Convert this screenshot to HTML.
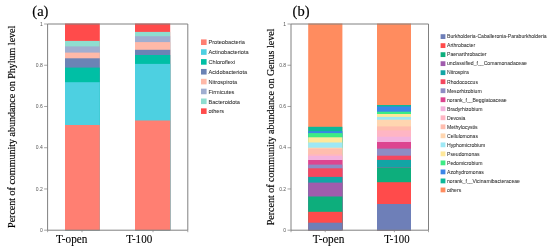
<!DOCTYPE html>
<html><head><meta charset="utf-8"><title>Community abundance</title>
<style>
html,body{margin:0;padding:0;background:#fff}
svg{display:block}
.tk{font-family:"Liberation Sans",Arial,sans-serif;font-size:5px;fill:#555}
.lg{font-family:"Liberation Sans",Arial,sans-serif;fill:#333;stroke:#333;stroke-width:0.06px}
.sx{font-family:"Liberation Serif","Times New Roman",serif;fill:#000;stroke:#000;stroke-width:0.1px}
.sf{font-family:"Liberation Serif","Times New Roman",serif;fill:#000;stroke:#000;stroke-width:0.16px}
</style></head><body>
<svg width="550" height="252" viewBox="0 0 550 252">
<rect width="550" height="252" fill="#fff"/>
<!-- panel a -->
<text x="32.3" y="15.9" class="sf" font-size="14.5">(a)</text>
<rect x="65" y="23.5" width="34.8" height="206.7" fill="#FF4B4B"/>
<rect x="65" y="40.9" width="34.8" height="189.3" fill="#8FDDD0"/>
<rect x="65" y="46.4" width="34.8" height="183.8" fill="#A0AED0"/>
<rect x="65" y="52.6" width="34.8" height="177.6" fill="#FFB9A8"/>
<rect x="65" y="58.3" width="34.8" height="171.9" fill="#6B83B5"/>
<rect x="65" y="67.6" width="34.8" height="162.6" fill="#00BFA5"/>
<rect x="65" y="82.2" width="34.8" height="148.0" fill="#4DD0E1"/>
<rect x="65" y="125" width="34.8" height="105.2" fill="#FF7F72"/>
<rect x="135" y="23.5" width="35.2" height="206.7" fill="#FF4B4B"/>
<rect x="135" y="31.9" width="35.2" height="198.3" fill="#8FDDD0"/>
<rect x="135" y="36.2" width="35.2" height="194.0" fill="#A0AED0"/>
<rect x="135" y="42.1" width="35.2" height="188.1" fill="#FFB9A8"/>
<rect x="135" y="49.8" width="35.2" height="180.4" fill="#6B83B5"/>
<rect x="135" y="55" width="35.2" height="175.2" fill="#00BFA5"/>
<rect x="135" y="63.9" width="35.2" height="166.3" fill="#4DD0E1"/>
<rect x="135" y="120.5" width="35.2" height="109.7" fill="#FF7F72"/>
<path d="M47.6 24.0H187.8V230.2H47.6Z" fill="none" stroke="#808080" stroke-width="1"/>
<path d="M44.1 230.20H47.6" stroke="#808080" stroke-width="0.7"/>
<text x="42.7" y="231.90" text-anchor="end" class="tk">0</text>
<path d="M44.1 188.96H47.6" stroke="#808080" stroke-width="0.7"/>
<text x="42.7" y="190.66" text-anchor="end" class="tk">0.2</text>
<path d="M44.1 147.72H47.6" stroke="#808080" stroke-width="0.7"/>
<text x="42.7" y="149.42" text-anchor="end" class="tk">0.4</text>
<path d="M44.1 106.48H47.6" stroke="#808080" stroke-width="0.7"/>
<text x="42.7" y="108.18" text-anchor="end" class="tk">0.6</text>
<path d="M44.1 65.24H47.6" stroke="#808080" stroke-width="0.7"/>
<text x="42.7" y="66.94" text-anchor="end" class="tk">0.8</text>
<path d="M44.1 24.00H47.6" stroke="#808080" stroke-width="0.7"/>
<text x="42.7" y="25.70" text-anchor="end" class="tk">1</text>
<path d="M47.6 230.2V232.2" stroke="#808080" stroke-width="0.7"/>
<path d="M82 230.2V232.2" stroke="#808080" stroke-width="0.7"/>
<path d="M153 230.2V232.2" stroke="#808080" stroke-width="0.7"/>
<path d="M187.8 230.2V232.2" stroke="#808080" stroke-width="0.7"/>
<text transform="translate(14.9 227.9) rotate(-90)" class="sf" font-size="10" textLength="202.2" lengthAdjust="spacingAndGlyphs">Percent of community abundance on Phylum level</text>
<text x="56" y="243.2" class="sx" font-size="12" textLength="31.4" lengthAdjust="spacingAndGlyphs">T-open</text>
<text x="126.2" y="243.2" class="sx" font-size="12" textLength="26" lengthAdjust="spacingAndGlyphs">T-100</text>
<rect x="201" y="39.40" width="5.6" height="5.6" fill="#FF7F72"/>
<text x="208.5" y="44.40" class="lg" font-size="5.6">Proteobacteria</text>
<rect x="201" y="49.25" width="5.6" height="5.6" fill="#4DD0E1"/>
<text x="208.5" y="54.25" class="lg" font-size="5.6">Actinobacteriota</text>
<rect x="201" y="59.10" width="5.6" height="5.6" fill="#00BFA5"/>
<text x="208.5" y="64.10" class="lg" font-size="5.6">Chloroflexi</text>
<rect x="201" y="68.95" width="5.6" height="5.6" fill="#6B83B5"/>
<text x="208.5" y="73.95" class="lg" font-size="5.6">Acidobacteriota</text>
<rect x="201" y="78.80" width="5.6" height="5.6" fill="#FFB9A8"/>
<text x="208.5" y="83.80" class="lg" font-size="5.6">Nitrospirota</text>
<rect x="201" y="88.65" width="5.6" height="5.6" fill="#A0AED0"/>
<text x="208.5" y="93.65" class="lg" font-size="5.6">Firmicutes</text>
<rect x="201" y="98.50" width="5.6" height="5.6" fill="#8FDDD0"/>
<text x="208.5" y="103.50" class="lg" font-size="5.6">Bacteroidota</text>
<rect x="201" y="108.35" width="5.6" height="5.6" fill="#FF4B4B"/>
<text x="208.5" y="113.35" class="lg" font-size="5.6">others</text>
<!-- panel b -->
<text x="292.6" y="15.9" class="sf" font-size="14.5">(b)</text>
<rect x="308.2" y="23.5" width="34.2" height="206.7" fill="#FF8C5F"/>
<rect x="308.2" y="126.8" width="34.2" height="103.4" fill="#0CB89A"/>
<rect x="308.2" y="131.2" width="34.2" height="99.0" fill="#3B86E8"/>
<rect x="308.2" y="133.1" width="34.2" height="97.1" fill="#3DEB85"/>
<rect x="308.2" y="137.3" width="34.2" height="92.9" fill="#FFE89A"/>
<rect x="308.2" y="142.5" width="34.2" height="87.7" fill="#9EE8F5"/>
<rect x="308.2" y="147.7" width="34.2" height="82.5" fill="#FFD6B0"/>
<rect x="308.2" y="148.6" width="34.2" height="81.6" fill="#FFBDAE"/>
<rect x="308.2" y="154.4" width="34.2" height="75.8" fill="#FFB5C4"/>
<rect x="308.2" y="156" width="34.2" height="74.2" fill="#F3B2DD"/>
<rect x="308.2" y="160" width="34.2" height="70.2" fill="#DD4590"/>
<rect x="308.2" y="164.6" width="34.2" height="65.6" fill="#8E8CC4"/>
<rect x="308.2" y="168.3" width="34.2" height="61.9" fill="#F4475F"/>
<rect x="308.2" y="176.9" width="34.2" height="53.3" fill="#12A5A5"/>
<rect x="308.2" y="182.6" width="34.2" height="47.6" fill="#A05CAD"/>
<rect x="308.2" y="196.5" width="34.2" height="33.7" fill="#0DAE7C"/>
<rect x="308.2" y="211.8" width="34.2" height="18.4" fill="#FF4B4B"/>
<rect x="308.2" y="222.7" width="34.2" height="7.5" fill="#6E7FB8"/>
<rect x="377" y="23.5" width="34" height="206.7" fill="#FF8C5F"/>
<rect x="377" y="105" width="34" height="125.2" fill="#0CB89A"/>
<rect x="377" y="106.5" width="34" height="123.7" fill="#3B86E8"/>
<rect x="377" y="111.7" width="34" height="118.5" fill="#3DEB85"/>
<rect x="377" y="114" width="34" height="116.2" fill="#FFE89A"/>
<rect x="377" y="116.9" width="34" height="113.3" fill="#9EE8F5"/>
<rect x="377" y="119.7" width="34" height="110.5" fill="#FFD6B0"/>
<rect x="377" y="126.4" width="34" height="103.8" fill="#FFBDAE"/>
<rect x="377" y="130.4" width="34" height="99.8" fill="#FFB5C4"/>
<rect x="377" y="136.7" width="34" height="93.5" fill="#F3B2DD"/>
<rect x="377" y="142" width="34" height="88.2" fill="#DD4590"/>
<rect x="377" y="148.6" width="34" height="81.6" fill="#8E8CC4"/>
<rect x="377" y="155.7" width="34" height="74.5" fill="#F4475F"/>
<rect x="377" y="159.9" width="34" height="70.3" fill="#12A5A5"/>
<rect x="377" y="167.2" width="34" height="63.0" fill="#A05CAD"/>
<rect x="377" y="167.6" width="34" height="62.6" fill="#0DAE7C"/>
<rect x="377" y="182.2" width="34" height="48.0" fill="#FF4B4B"/>
<rect x="377" y="204" width="34" height="26.2" fill="#6E7FB8"/>
<path d="M291.0 24.0H428.5V230.2H291.0Z" fill="none" stroke="#808080" stroke-width="1"/>
<path d="M287.5 230.20H291.0" stroke="#808080" stroke-width="0.7"/>
<text x="286.1" y="231.90" text-anchor="end" class="tk">0</text>
<path d="M287.5 188.96H291.0" stroke="#808080" stroke-width="0.7"/>
<text x="286.1" y="190.66" text-anchor="end" class="tk">0.2</text>
<path d="M287.5 147.72H291.0" stroke="#808080" stroke-width="0.7"/>
<text x="286.1" y="149.42" text-anchor="end" class="tk">0.4</text>
<path d="M287.5 106.48H291.0" stroke="#808080" stroke-width="0.7"/>
<text x="286.1" y="108.18" text-anchor="end" class="tk">0.6</text>
<path d="M287.5 65.24H291.0" stroke="#808080" stroke-width="0.7"/>
<text x="286.1" y="66.94" text-anchor="end" class="tk">0.8</text>
<path d="M287.5 24.00H291.0" stroke="#808080" stroke-width="0.7"/>
<text x="286.1" y="25.70" text-anchor="end" class="tk">1</text>
<path d="M291.0 230.2V232.2" stroke="#808080" stroke-width="0.7"/>
<path d="M325.2 230.2V232.2" stroke="#808080" stroke-width="0.7"/>
<path d="M394.4 230.2V232.2" stroke="#808080" stroke-width="0.7"/>
<path d="M428.5 230.2V232.2" stroke="#808080" stroke-width="0.7"/>
<text transform="translate(273.6 225.3) rotate(-90)" class="sf" font-size="10" textLength="196.7" lengthAdjust="spacingAndGlyphs">Percent of community abundance on Genus level</text>
<text x="312.8" y="243.2" class="sx" font-size="12" textLength="31.6" lengthAdjust="spacingAndGlyphs">T-open</text>
<text x="384.2" y="243.2" class="sx" font-size="12" textLength="25.4" lengthAdjust="spacingAndGlyphs">T-100</text>
<rect x="440.6" y="34.20" width="4.8" height="4.8" fill="#6E7FB8"/>
<text x="447" y="38.40" class="lg" font-size="5.12">Burkholderia-Caballeronia-Paraburkholderia</text>
<rect x="440.6" y="43.22" width="4.8" height="4.8" fill="#FF4B4B"/>
<text x="447" y="47.42" class="lg" font-size="5.12">Arthrobacter</text>
<rect x="440.6" y="52.24" width="4.8" height="4.8" fill="#0DAE7C"/>
<text x="447" y="56.44" class="lg" font-size="5.12">Paenarthrobacter</text>
<rect x="440.6" y="61.26" width="4.8" height="4.8" fill="#A05CAD"/>
<text x="447" y="65.46" class="lg" font-size="5.12">unclassified_f__Comamonadaceae</text>
<rect x="440.6" y="70.28" width="4.8" height="4.8" fill="#12A5A5"/>
<text x="447" y="74.48" class="lg" font-size="5.12">Nitrospira</text>
<rect x="440.6" y="79.30" width="4.8" height="4.8" fill="#F4475F"/>
<text x="447" y="83.50" class="lg" font-size="5.12">Rhodococcus</text>
<rect x="440.6" y="88.32" width="4.8" height="4.8" fill="#8E8CC4"/>
<text x="447" y="92.52" class="lg" font-size="5.12">Mesorhizobium</text>
<rect x="440.6" y="97.34" width="4.8" height="4.8" fill="#DD4590"/>
<text x="447" y="101.54" class="lg" font-size="5.12">norank_f__Beggiatoaceae</text>
<rect x="440.6" y="106.36" width="4.8" height="4.8" fill="#F3B2DD"/>
<text x="447" y="110.56" class="lg" font-size="5.12">Bradyrhizobium</text>
<rect x="440.6" y="115.38" width="4.8" height="4.8" fill="#FFB5C4"/>
<text x="447" y="119.58" class="lg" font-size="5.12">Devosia</text>
<rect x="440.6" y="124.40" width="4.8" height="4.8" fill="#FFBDAE"/>
<text x="447" y="128.60" class="lg" font-size="5.12">Methylocystis</text>
<rect x="440.6" y="133.42" width="4.8" height="4.8" fill="#FFD6B0"/>
<text x="447" y="137.62" class="lg" font-size="5.12">Cellulomonas</text>
<rect x="440.6" y="142.44" width="4.8" height="4.8" fill="#9EE8F5"/>
<text x="447" y="146.64" class="lg" font-size="5.12">Hyphomicrobium</text>
<rect x="440.6" y="151.46" width="4.8" height="4.8" fill="#FFE89A"/>
<text x="447" y="155.66" class="lg" font-size="5.12">Pseudomonas</text>
<rect x="440.6" y="160.48" width="4.8" height="4.8" fill="#3DEB85"/>
<text x="447" y="164.68" class="lg" font-size="5.12">Pedomicrobium</text>
<rect x="440.6" y="169.50" width="4.8" height="4.8" fill="#3B86E8"/>
<text x="447" y="173.70" class="lg" font-size="5.12">Azohydromonas</text>
<rect x="440.6" y="178.52" width="4.8" height="4.8" fill="#0CB89A"/>
<text x="447" y="182.72" class="lg" font-size="5.12">norank_f__Vicinamibacteraceae</text>
<rect x="440.6" y="187.54" width="4.8" height="4.8" fill="#FF8C5F"/>
<text x="447" y="191.74" class="lg" font-size="5.12">others</text>
</svg>
</body></html>
